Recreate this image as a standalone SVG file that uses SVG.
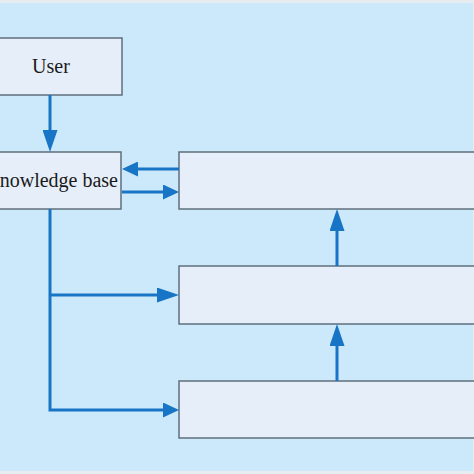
<svg xmlns="http://www.w3.org/2000/svg" width="474" height="474" viewBox="0 0 474 474">
  <style>
    .box { fill: #e6eff9; stroke: #5f6f7c; stroke-width: 1.5; }
    .lbl { font-family: "Liberation Serif", "Times New Roman", serif; font-size: 20px; fill: #1a1a1a; }
    .con { fill: none; stroke: #1874c4; stroke-width: 3; }
  </style>
  <defs>
    <marker id="ahL" markerUnits="userSpaceOnUse" markerWidth="22" markerHeight="15" refX="0" refY="7.5" orient="auto">
      <path d="M0,0 L22,7.5 L0,15 Z" fill="#1874c4"/>
    </marker>
    <marker id="ahS" markerUnits="userSpaceOnUse" markerWidth="16" markerHeight="15" refX="0" refY="7.5" orient="auto">
      <path d="M0,0 L16,7.5 L0,15 Z" fill="#1874c4"/>
    </marker>
  </defs>
  <rect x="0" y="0" width="474" height="474" fill="#e6ecef"/>
  <rect x="0" y="3" width="473" height="468" fill="#cce8fb"/>

  <g id="user">
    <rect class="box" x="-5" y="38" width="127" height="57"/>
    <text class="lbl" x="51" y="73" text-anchor="middle">User</text>
  </g>
  <g id="knowledge-base">
    <rect class="box" x="-5" y="152" width="126" height="57"/>
    <text class="lbl" x="118" y="187" text-anchor="end">nowledge base</text>
  </g>
  <g id="box1">
    <rect class="box" x="179" y="152" width="300" height="57"/>
  </g>
  <g id="box2">
    <rect class="box" x="179" y="266" width="300" height="58"/>
  </g>
  <g id="box3">
    <rect class="box" x="179" y="381" width="300" height="57"/>
  </g>

  <g id="connectors">
    <path class="con" d="M50,95 L50,130" marker-end="url(#ahL)"/>
    <path class="con" d="M179,169 L138,169" marker-end="url(#ahS)"/>
    <path class="con" d="M122,192 L163,192" marker-end="url(#ahS)"/>
    <path class="con" d="M50,209 L50,410 L163,410" marker-end="url(#ahS)"/>
    <path class="con" d="M50,295 L157,295" marker-end="url(#ahL)"/>
    <path class="con" d="M337,381 L337,346" marker-end="url(#ahL)"/>
    <path class="con" d="M337,266 L337,231" marker-end="url(#ahL)"/>
  </g>
</svg>
